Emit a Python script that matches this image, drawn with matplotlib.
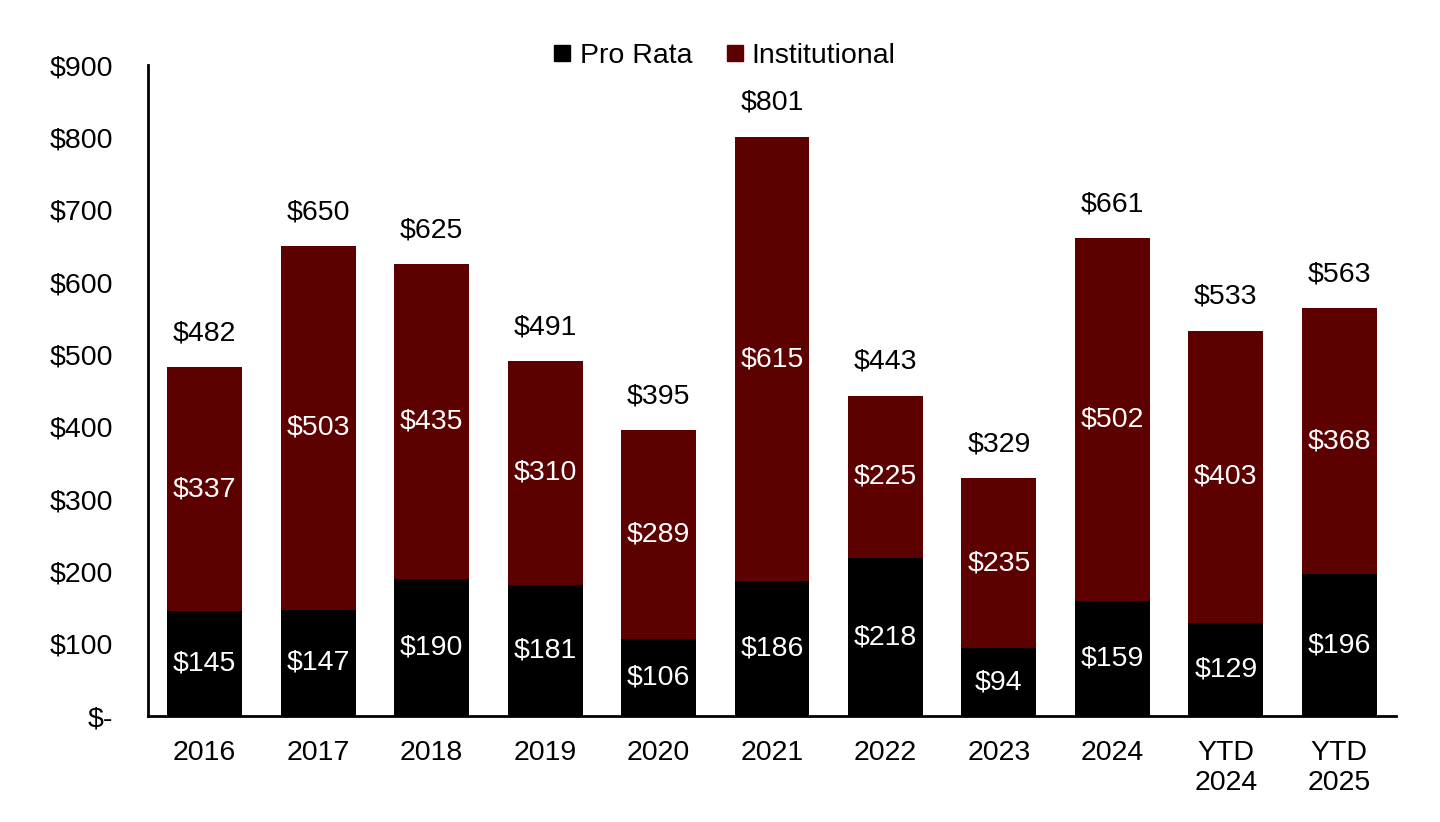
import matplotlib
matplotlib.use("Agg")
import matplotlib.pyplot as plt
from matplotlib.lines import Line2D

plt.rcParams['font.family'] = ['Liberation Sans', 'DejaVu Sans']

categories = ["2016", "2017", "2018", "2019", "2020", "2021", "2022", "2023", "2024", "YTD\n2024", "YTD\n2025"]
pro_rata = [145, 147, 190, 181, 106, 186, 218, 94, 159, 129, 196]
institutional = [337, 503, 435, 310, 289, 615, 225, 235, 502, 403, 368]
totals = [482, 650, 625, 491, 395, 801, 443, 329, 661, 533, 563]
yticks = [0, 100, 200, 300, 400, 500, 600, 700, 800, 900]
ytick_labels = ["$-", "$100", "$200", "$300", "$400", "$500", "$600", "$700", "$800", "$900"]

c_pro = "#000000"
c_inst = "#5C0000"
fs = 20.5

fig = plt.figure(figsize=(14.4, 8.22), dpi=100)
ax = fig.add_axes([148/1440, 1-716/822, (1396-148)/1440, (716-65)/822])

x = list(range(len(categories)))
w = 0.66
ax.bar(x, pro_rata, width=w, color=c_pro, zorder=2)
ax.bar(x, institutional, width=w, bottom=pro_rata, color=c_inst, zorder=2)

for i in x:
    ax.text(i, pro_rata[i]/2, f"${pro_rata[i]}", ha='center', va='center', color='white', fontsize=fs)
    ax.text(i, pro_rata[i] + institutional[i]/2, f"${institutional[i]}", ha='center', va='center', color='white', fontsize=fs)
    ax.annotate(f"${totals[i]}", (i, totals[i]), xytext=(0, 15), textcoords='offset points',
                ha='center', va='bottom', fontsize=fs, color='black')

ax.set_xlim(-0.5, len(categories)-0.5)
ax.set_ylim(0, 900)
ax.set_yticks(yticks)
ax.set_yticklabels(ytick_labels, fontsize=fs)
ax.set_xticks(x)
ax.set_xticklabels(categories, fontsize=fs, linespacing=1.2)
ax.tick_params(axis='both', length=0)
ax.tick_params(axis='y', pad=25)
ax.tick_params(axis='x', pad=17)
for s in ['top', 'right']:
    ax.spines[s].set_visible(False)
for s in ['left', 'bottom']:
    ax.spines[s].set_linewidth(2)
    ax.spines[s].set_color('black')

handles = [Line2D([], [], marker='s', linestyle='none', markersize=11, color=c_pro),
           Line2D([], [], marker='s', linestyle='none', markersize=11, color=c_inst)]
fig.legend(handles, ["Pro Rata", "Institutional"], loc='center', bbox_to_anchor=(722/1440, 1-56/822),
           ncol=2, frameon=False, fontsize=fs, handletextpad=0.1, columnspacing=1.0, handlelength=1.0)

fig.savefig("out.png", dpi=100)
